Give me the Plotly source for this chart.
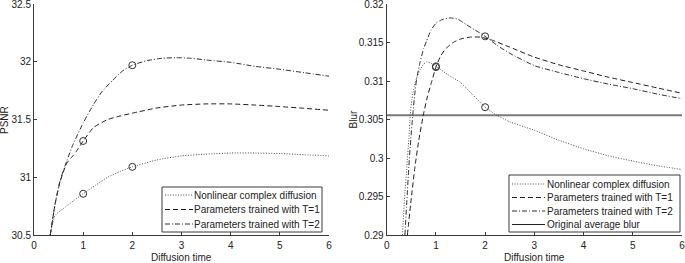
import plotly.graph_objects as go

# ---------------- data ----------------
# Left panel: PSNR vs diffusion time
t_psnr_nl = [0.33, 0.43, 0.6, 0.8, 1.0, 1.25, 1.5, 1.75, 2.0, 2.5, 3.0, 3.5, 4.0, 4.5, 5.0, 5.5, 6.0]
psnr_nl = [30.5, 30.67, 30.73, 30.795, 30.857, 30.93, 31.0, 31.05, 31.09, 31.15, 31.185, 31.2, 31.21, 31.21, 31.205, 31.195, 31.185]

t_psnr_t1 = [0.33, 0.43, 0.53, 0.665, 0.8, 0.87, 1.0, 1.21, 1.5, 1.75, 2.0, 2.5, 3.0, 3.5, 4.0, 4.5, 5.0, 5.5, 6.0]
psnr_t1 = [30.5, 30.77, 30.96, 31.12, 31.19, 31.23, 31.314, 31.43, 31.5, 31.53, 31.555, 31.6, 31.625, 31.635, 31.635, 31.625, 31.612, 31.597, 31.58]

t_psnr_t2 = [0.33, 0.43, 0.53, 0.665, 0.8, 1.0, 1.21, 1.38, 1.6, 1.8, 2.0, 2.3, 2.6, 2.9, 3.2, 3.5, 4.0, 4.5, 5.0, 5.5, 6.0]
psnr_t2 = [30.5, 30.77, 30.97, 31.14, 31.29, 31.47, 31.63, 31.74, 31.84, 31.92, 31.97, 32.01, 32.03, 32.035, 32.03, 32.015, 31.995, 31.96, 31.935, 31.905, 31.875]

# circle markers (left)
mk_psnr_x = [1, 2, 1, 2]
mk_psnr_y = [30.857, 31.09, 31.314, 31.97]

# Right panel: Blur vs diffusion time
t_blur_nl = [0.32, 0.36, 0.41, 0.45, 0.48, 0.51, 0.56, 0.61, 0.68, 0.75, 0.82, 0.9, 1.0, 1.25, 1.5, 1.75, 2.0, 2.25, 2.5, 3.0, 3.5, 4.0, 4.5, 5.0, 5.5, 6.0]
blur_nl = [0.29, 0.2945, 0.2989, 0.3025, 0.3056, 0.3076, 0.3093, 0.3104, 0.3115, 0.3122, 0.3125, 0.3123, 0.3119, 0.3108, 0.3098, 0.3082, 0.3066, 0.3055, 0.3047, 0.3036, 0.3023, 0.3012, 0.3003, 0.2996, 0.2990, 0.2985]

t_blur_t1 = [0.42, 0.5, 0.575, 0.65, 0.745, 0.82, 0.9, 1.0, 1.1, 1.2, 1.35, 1.5, 1.7, 1.9, 2.1, 2.5, 3.0, 3.5, 4.0, 4.5, 5.0, 5.5, 6.0]
blur_t1 = [0.29, 0.2948, 0.2989, 0.3022, 0.3056, 0.3078, 0.3096, 0.3118, 0.3133, 0.3142, 0.3150, 0.31545, 0.3157, 0.3157, 0.3154, 0.3144, 0.3131, 0.3121, 0.3113, 0.3105, 0.3098, 0.3091, 0.3084]

t_blur_t2 = [0.37, 0.41, 0.45, 0.49, 0.53, 0.57, 0.61, 0.68, 0.75, 0.81, 0.9, 1.0, 1.1, 1.28, 1.45, 1.6, 1.8, 2.0, 2.25, 2.5, 3.0, 3.5, 4.0, 4.5, 5.0, 5.5, 6.0]
blur_t2 = [0.29, 0.2945, 0.2989, 0.3025, 0.3056, 0.3083, 0.3103, 0.3125, 0.3142, 0.3152, 0.3166, 0.3175, 0.3179, 0.3182, 0.3180, 0.3174, 0.3166, 0.3158, 0.3146, 0.3136, 0.3120, 0.3111, 0.3103, 0.3096, 0.3090, 0.3083, 0.3077]

blur_original = 0.30555
t_span = [0, 6]

mk_blur_x = [1, 2, 1, 2]
mk_blur_y = [0.3119, 0.3066, 0.3118, 0.3158]

legend_psnr = ["Nonlinear complex diffusion", "Parameters trained with T=1", "Parameters trained with T=2"]
legend_blur = legend_psnr + ["Original average blur"]

x_ticks = [0, 1, 2, 3, 4, 5, 6]
psnr_ticks = [30.5, 31, 31.5, 32, 32.5]
psnr_ticktext = ["30.5", "31", "31.5", "32", "32.5"]
blur_ticks = [0.29, 0.295, 0.30, 0.305, 0.31, 0.315, 0.32]
blur_ticktext = ["0.29", "0.295", "0.3", "0.305", "0.31", "0.315", "0.32"]

# ---------------- styling ----------------
FONT = "Liberation Sans, Arial, Helvetica, sans-serif"
TXT = "#222222"
AX = "#3a3a3a"
DOT = "1px,1.6px"
DASH = "5px,3px"
DASHDOT = "5px,2px,1px,2px"
C_DOT = "#4a4a4a"
C_DASH = "#1e1e1e"
C_DD = "#2e2e2e"
C_ORIG = "#7a7a7a"

W, H = 685, 263
ML, MR, MT, MB = 34, 3, 4, 28
PW = W - ML - MR
PH = H - MT - MB


def px(x):
    return (x - ML) / PW


def py(y):
    return (H - MB - y) / PH


fig = go.Figure()


def add_line(x, y, xa, ya, dash, color, width=1.0, smooth=True):
    fig.add_trace(go.Scatter(
        x=x, y=y, xaxis=xa, yaxis=ya, mode="lines",
        line=dict(color=color, width=width, dash=dash,
                  shape="spline" if smooth else "linear", smoothing=0.5),
        showlegend=False, hoverinfo="skip"))


def add_markers(x, y, xa, ya):
    fig.add_trace(go.Scatter(
        x=x, y=y, xaxis=xa, yaxis=ya, mode="markers",
        marker=dict(symbol="circle-open", size=7, color="#333333", line=dict(width=1, color="#333333")),
        showlegend=False, hoverinfo="skip"))


# left panel
add_line(t_psnr_nl, psnr_nl, "x", "y", DOT, C_DOT)
add_line(t_psnr_t1, psnr_t1, "x", "y", DASH, C_DASH)
add_line(t_psnr_t2, psnr_t2, "x", "y", DASHDOT, C_DD)
add_markers(mk_psnr_x, mk_psnr_y, "x", "y")

# right panel
add_line(t_span, [blur_original, blur_original], "x2", "y2", "solid", C_ORIG, width=1.8, smooth=False)
add_line(t_blur_nl, blur_nl, "x2", "y2", DOT, C_DOT)
add_line(t_blur_t1, blur_t1, "x2", "y2", DASH, C_DASH)
add_line(t_blur_t2, blur_t2, "x2", "y2", DASHDOT, C_DD)
add_markers(mk_blur_x, mk_blur_y, "x2", "y2")

axis_common = dict(showline=True, linecolor=AX, linewidth=1, ticks="inside", ticklen=3,
                   tickcolor=AX, tickwidth=1, showgrid=False, zeroline=False, mirror=False,
                   tickfont=dict(family=FONT, size=10, color=TXT), automargin=False, fixedrange=True,
                   ticklabeloverflow="allow")

fig.update_layout(
    width=W, height=H,
    margin=dict(l=ML, r=MR, t=MT, b=MB, pad=0),
    paper_bgcolor="white", plot_bgcolor="white",
    showlegend=False,
    font=dict(family=FONT, size=10, color=TXT),
    xaxis=dict(domain=[0, px(329)], range=[0, 6], tickvals=x_ticks, anchor="y", ticklabelstandoff=1,
               **axis_common),
    yaxis=dict(domain=[0, 1], range=[30.5, 32.5 + 1e-6], tickvals=psnr_ticks, ticktext=psnr_ticktext,
               anchor="x", ticklabelstandoff=0, **axis_common),
    xaxis2=dict(domain=[px(386.7), 1], range=[0, 6], tickvals=x_ticks, anchor="y2", ticklabelstandoff=1,
                **axis_common),
    yaxis2=dict(domain=[0, 1], range=[0.29, 0.32 + 1e-8], tickvals=blur_ticks, ticktext=blur_ticktext,
                anchor="x2", ticklabelstandoff=0, **axis_common),
)

ann = []
shapes = []

# axis titles
ann.append(dict(text="Diffusion time", x=px((34 + 329) / 2), y=py(257.5), xref="paper", yref="paper",
                showarrow=False, xanchor="center", yanchor="middle", font=dict(size=10, family=FONT, color=TXT)))
ann.append(dict(text="Diffusion time", x=px((386.7 + 681.7) / 2), y=py(257.5), xref="paper", yref="paper",
                showarrow=False, xanchor="center", yanchor="middle", font=dict(size=10, family=FONT, color=TXT)))
ann.append(dict(text="PSNR", x=px(4), y=py(120), xref="paper", yref="paper", textangle=-90,
                showarrow=False, xanchor="center", yanchor="middle", font=dict(size=10, family=FONT, color=TXT)))
ann.append(dict(text="Blur", x=px(352.5), y=py(120), xref="paper", yref="paper", textangle=-90,
                showarrow=False, xanchor="center", yanchor="middle", font=dict(size=10, family=FONT, color=TXT)))


def legend_box(x0, x1, y0, y1, rows, line_x0, line_x1, text_x, labels, styles):
    shapes.append(dict(type="rect", xref="paper", yref="paper", x0=px(x0), x1=px(x1), y0=py(y1), y1=py(y0),
                       line=dict(color=AX, width=1), fillcolor="white", layer="above"))
    for ry, lab, (dash, col) in zip(rows, labels, styles):
        shapes.append(dict(type="line", xref="paper", yref="paper", x0=px(line_x0), x1=px(line_x1),
                           y0=py(ry), y1=py(ry), line=dict(color=col, width=1, dash=dash), layer="above"))
        ann.append(dict(text=lab, x=px(text_x), y=py(ry), xref="paper", yref="paper", showarrow=False,
                        xanchor="left", yanchor="middle", borderpad=0, borderwidth=0,
                        font=dict(size=10, family=FONT, color=TXT)))


styles = [(DOT, C_DOT), (DASH, C_DASH), (DASHDOT, C_DD), ("solid", "#222222")]
legend_box(162, 322, 187, 232, [195, 209.5, 224], 165, 193, 194, legend_psnr, styles[:3])
legend_box(509, 680, 175, 232, [184, 197.5, 211, 224.5], 512, 545, 546.5, legend_blur, styles)

fig.update_layout(annotations=ann, shapes=shapes)

fig.write_html("out.html", config={"displayModeBar": False},
               post_script="document.body.style.margin='0';document.body.style.padding='0';document.body.style.overflow='hidden';")
